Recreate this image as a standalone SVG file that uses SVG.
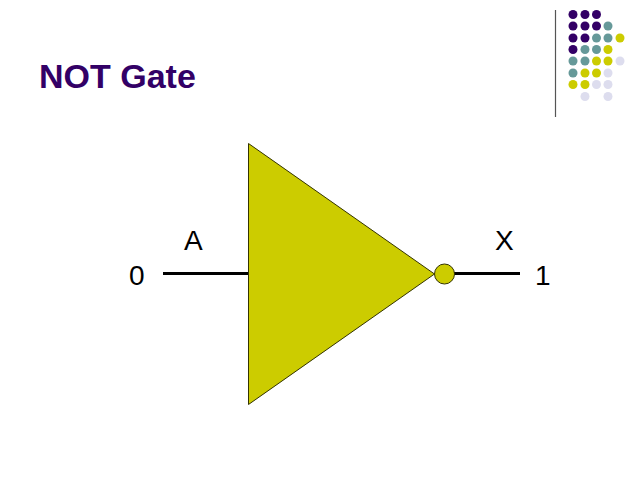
<svg xmlns="http://www.w3.org/2000/svg" width="638" height="478" viewBox="0 0 638 478">
<style>
.p{fill:#330066}.t{fill:#669999}.y{fill:#cccc00}.l{fill:#ddddee}
.lbl{font-family:"Liberation Sans",Arial,sans-serif;font-size:28px;fill:#000}
.title{font-family:"Liberation Sans",Arial,sans-serif;font-size:34px;font-weight:bold;fill:#330066}
.wire{stroke:#000;stroke-width:3;fill:none}
.gate{fill:#cccc00;stroke:#333300;stroke-width:1}
</style>
<rect width="638" height="478" fill="#fff"/>
<g id="decor">
<line x1="555.5" y1="10" x2="555.5" y2="117" stroke="#555" stroke-width="1.2"/>
<g>
<circle class="p" cx="573" cy="14.5" r="4.5"/><circle class="p" cx="585" cy="14.5" r="4.5"/><circle class="p" cx="596.500" cy="14.500" r="4.500"/>
<circle class="p" cx="573" cy="26" r="4.500"/><circle class="p" cx="585" cy="26" r="4.500"/><circle class="p" cx="596.500" cy="26" r="4.500"/><circle class="t" cx="608" cy="26" r="4.500"/>
<circle class="p" cx="573" cy="38" r="4.500"/><circle class="p" cx="585" cy="38" r="4.500"/><circle class="t" cx="596.500" cy="38" r="4.500"/><circle class="t" cx="608" cy="38" r="4.500"/><circle class="y" cx="620" cy="38" r="4.500"/>
<circle class="p" cx="573" cy="49.500" r="4.500"/><circle class="t" cx="585" cy="49.500" r="4.500"/><circle class="t" cx="596.500" cy="49.500" r="4.500"/><circle class="y" cx="608" cy="49.500" r="4.500"/>
<circle class="t" cx="573" cy="61" r="4.500"/><circle class="t" cx="585" cy="61" r="4.500"/><circle class="y" cx="596.500" cy="61" r="4.500"/><circle class="y" cx="608" cy="61" r="4.500"/><circle class="l" cx="620" cy="61" r="4.500"/>
<circle class="t" cx="573" cy="73" r="4.500"/><circle class="y" cx="585" cy="73" r="4.500"/><circle class="y" cx="596.500" cy="73" r="4.500"/><circle class="l" cx="608" cy="73" r="4.500"/>
<circle class="y" cx="573" cy="84.500" r="4.500"/><circle class="y" cx="585" cy="84.500" r="4.500"/><circle class="l" cx="596.500" cy="84.500" r="4.500"/><circle class="l" cx="608" cy="84.500" r="4.500"/>
<circle class="l" cx="585" cy="96.500" r="4.500"/><circle class="l" cx="608" cy="96.500" r="4.500"/>
</g>
</g>
<text class="title" x="39" y="88">NOT Gate</text>
<g id="connectors">
<line class="wire" x1="163" y1="273.500" x2="249" y2="273.500"/>
<line class="wire" x1="454" y1="273.500" x2="520" y2="273.500"/>
</g>
<g id="gate">
<polygon class="gate" points="248.500,143.500 434.500,274 248.500,404.500"/>
</g>
<g id="bubble">
<circle class="gate" cx="444.500" cy="274" r="10"/>
</g>
<g id="label-a"><text class="lbl" x="184" y="250">A</text></g>
<g id="label-x"><text class="lbl" x="495" y="250">X</text></g>
<g id="label-0"><text class="lbl" x="129" y="285">0</text></g>
<g id="label-1"><text class="lbl" x="535" y="285">1</text></g>
</svg>
